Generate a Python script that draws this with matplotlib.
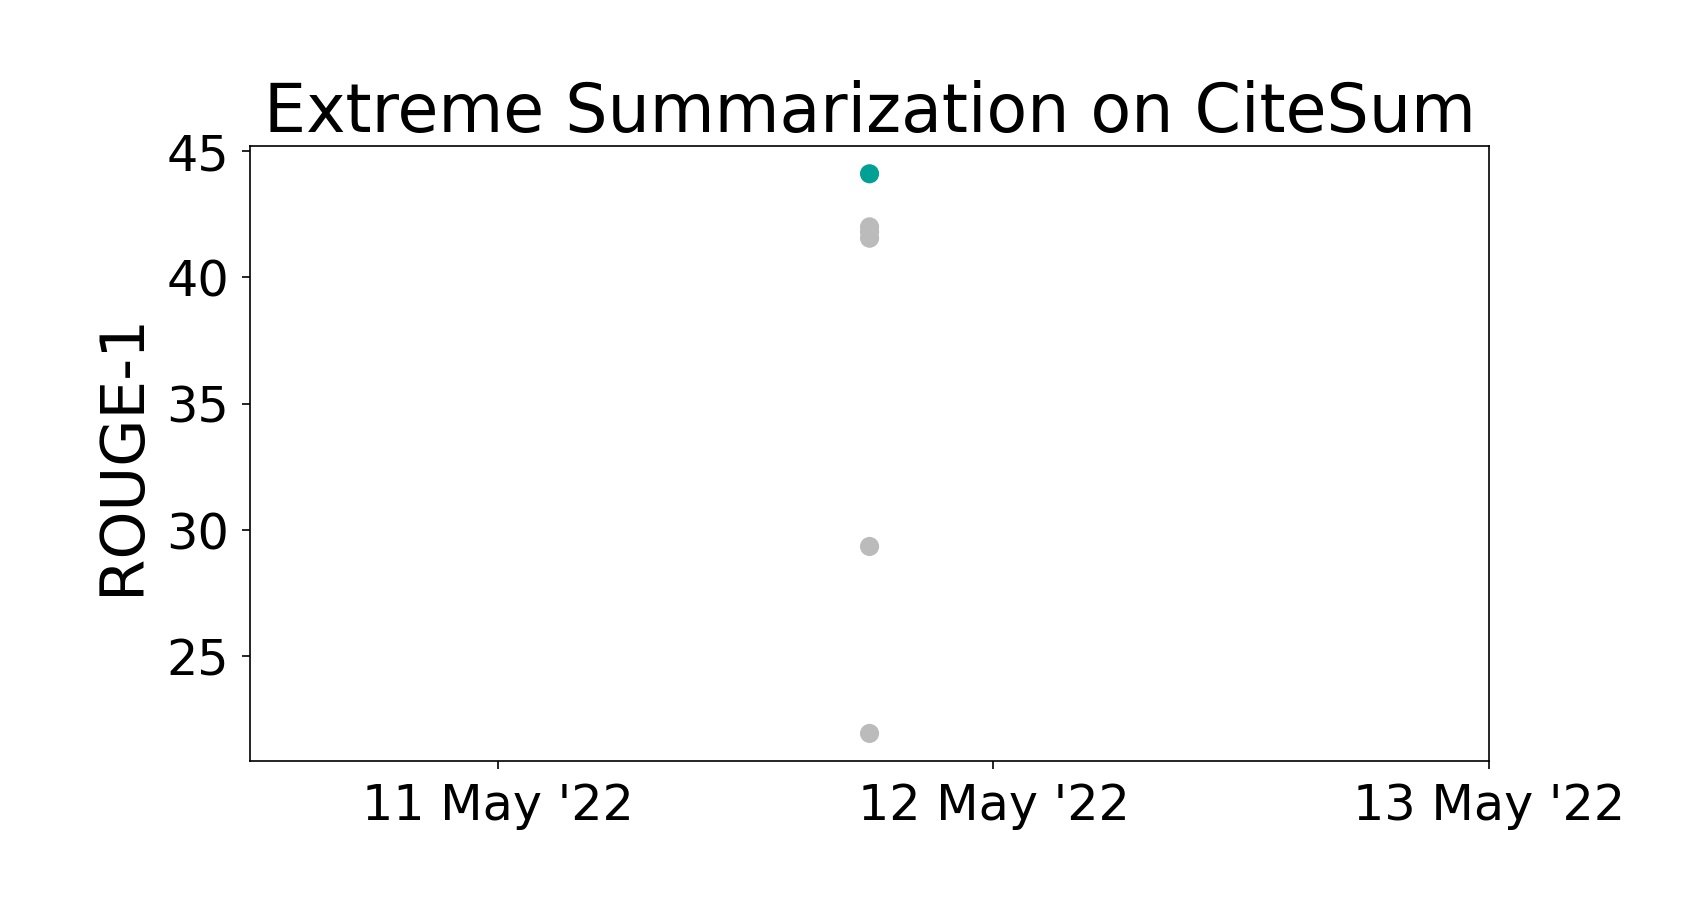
import matplotlib
matplotlib.use('Agg')
import matplotlib.pyplot as plt
import matplotlib.dates as mdates
from datetime import datetime

# Data
dates = [datetime(2022, 5, 11, 18)] * 6
rouge1 = [21.95, 29.35, 41.55, 41.8, 42.0, 44.1]
is_best = [False, False, False, False, False, True]

GRAY = '#bbbbbb'
TEAL = '#00a094'

fig = plt.figure(figsize=(17, 9), dpi=100)
ax = fig.add_axes([0.147, 0.154, 0.729, 0.684])

colors = [TEAL if b else GRAY for b in is_best]
ax.scatter(dates, rouge1, s=190, c=colors, zorder=3, linewidths=0)

ax.set_xlim(datetime(2022, 5, 10, 12), datetime(2022, 5, 13))
ax.xaxis.set_major_locator(mdates.DayLocator())
ax.xaxis.set_major_formatter(mdates.DateFormatter("%d %b '%y"))

ax.set_title('Extreme Summarization on CiteSum', fontsize=48, pad=10)
ax.set_ylabel('ROUGE-1', fontsize=44, labelpad=10)
ax.tick_params(axis='both', labelsize=35.5, length=6, width=1.2, pad=9)
for s in ax.spines.values():
    s.set_linewidth(1.2)

fig.savefig('out.png', dpi=100, facecolor='white')
plt.close(fig)
